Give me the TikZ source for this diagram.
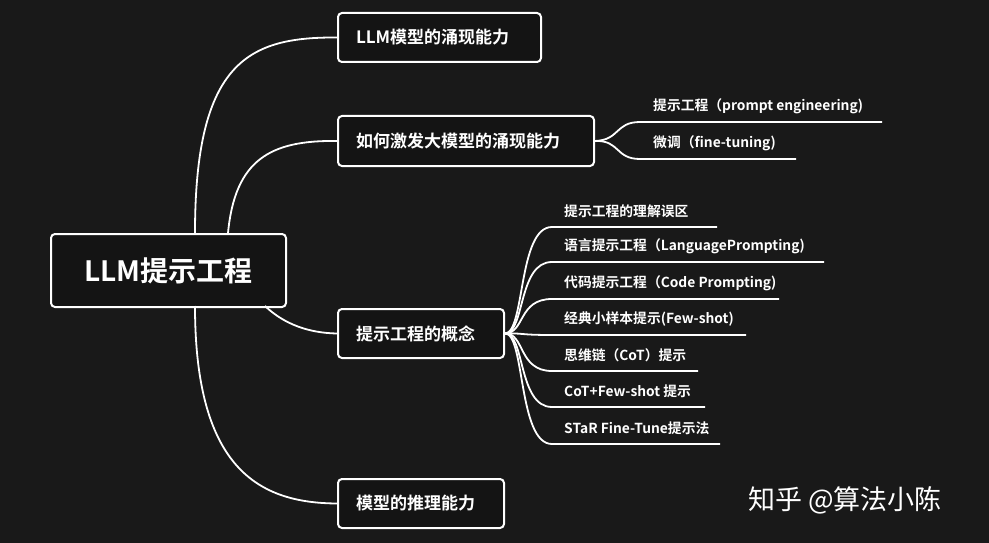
\documentclass[tikz,border=0pt]{standalone}
\usepackage{fontspec}
\setmainfont{Noto Sans CJK SC}[BoldFont={Noto Sans CJK SC Bold}]
\begin{document}
\begin{tikzpicture}[x=1pt,y=-1pt,
 bx/.style={draw=white,line width=2pt,rounded corners=4pt,fill=black!92,text=white,font=\bfseries\fontsize{17}{19}\selectfont,anchor=north west,inner xsep=18pt,inner ysep=0pt,align=left},
 ln/.style={draw=white!92,line width=1.8pt},
 lbl/.style={text=white,font=\bfseries\fontsize{13.8}{15}\selectfont,anchor=west,inner sep=0pt}]
\fill[black!90] (0,0) rectangle (989,543);
\useasboundingbox (0,0) rectangle (989,543);
\node[bx,text width=169pt,minimum height=73pt,inner xsep=33pt,font=\bfseries\fontsize{28}{32}\selectfont] (root) at (50,233) {LLM提示工程};
\node[bx,text width=167pt,minimum height=49pt] (b1) at (337,12) {LLM模型的涌现能力};
\node[bx,text width=220pt,minimum height=50pt] (b2) at (337,115) {如何激发大模型的涌现能力};
\node[bx,text width=130pt,minimum height=49pt] (b3) at (337,308) {提示工程的概念};
\node[bx,text width=130pt,minimum height=49pt] (b4) at (337,478) {模型的推理能力};
\coordinate (r1) at (195,233); \coordinate (r2) at (228,233);
\coordinate (r3) at (265,306); \coordinate (r4) at (195,306);
\draw[ln] (r1) .. controls (195,60) and (250,37) .. (b1.west);
\draw[ln] (r2) .. controls (235,160) and (270,140) .. (b2.west);
\draw[ln] (r3) .. controls (285,325) and (310,333) .. (b3.west);
\draw[ln] (r4) .. controls (195,470) and (260,503) .. (b4.west);
\foreach \t/\y/\e [count=\i] in {提示工程（prompt engineering)/106/882,微调（fine-tuning)/143/796}{
  \node[lbl] (c2\i) at (653,\y) {\t};
  \coordinate (u2\i) at (640,\y+16);
  \coordinate (v2\i) at (\e,\y+16);
  \draw[ln] (b2.east) .. controls (620,140) and (615,\y+16) .. (u2\i) -- (v2\i);
}
\foreach \t/\y/\e [count=\i] in {提示工程的理解误区/211/717,语言提示工程（LanguagePrompting)/246/824,代码提示工程（Code Prompting)/283/779,经典小样本提示(Few-shot)/319/746,思维链（CoT）提示/355/698,CoT+Few-shot 提示/391/705,STaR Fine-Tune提示法/428/720}{
  \node[lbl] (c3\i) at (564,\y) {\t};
  \coordinate (u3\i) at (552,\y+16);
  \coordinate (v3\i) at (\e,\y+16);
  \draw[ln] (b3.east) .. controls (525,333) and (518,\y+16) .. (u3\i) -- (v3\i);
}
\node[text=white!92,font=\fontsize{27}{30}\selectfont,anchor=west,inner sep=0pt] (wm) at (748,500) {知乎 @算法小陈};
\end{tikzpicture}
\end{document}
